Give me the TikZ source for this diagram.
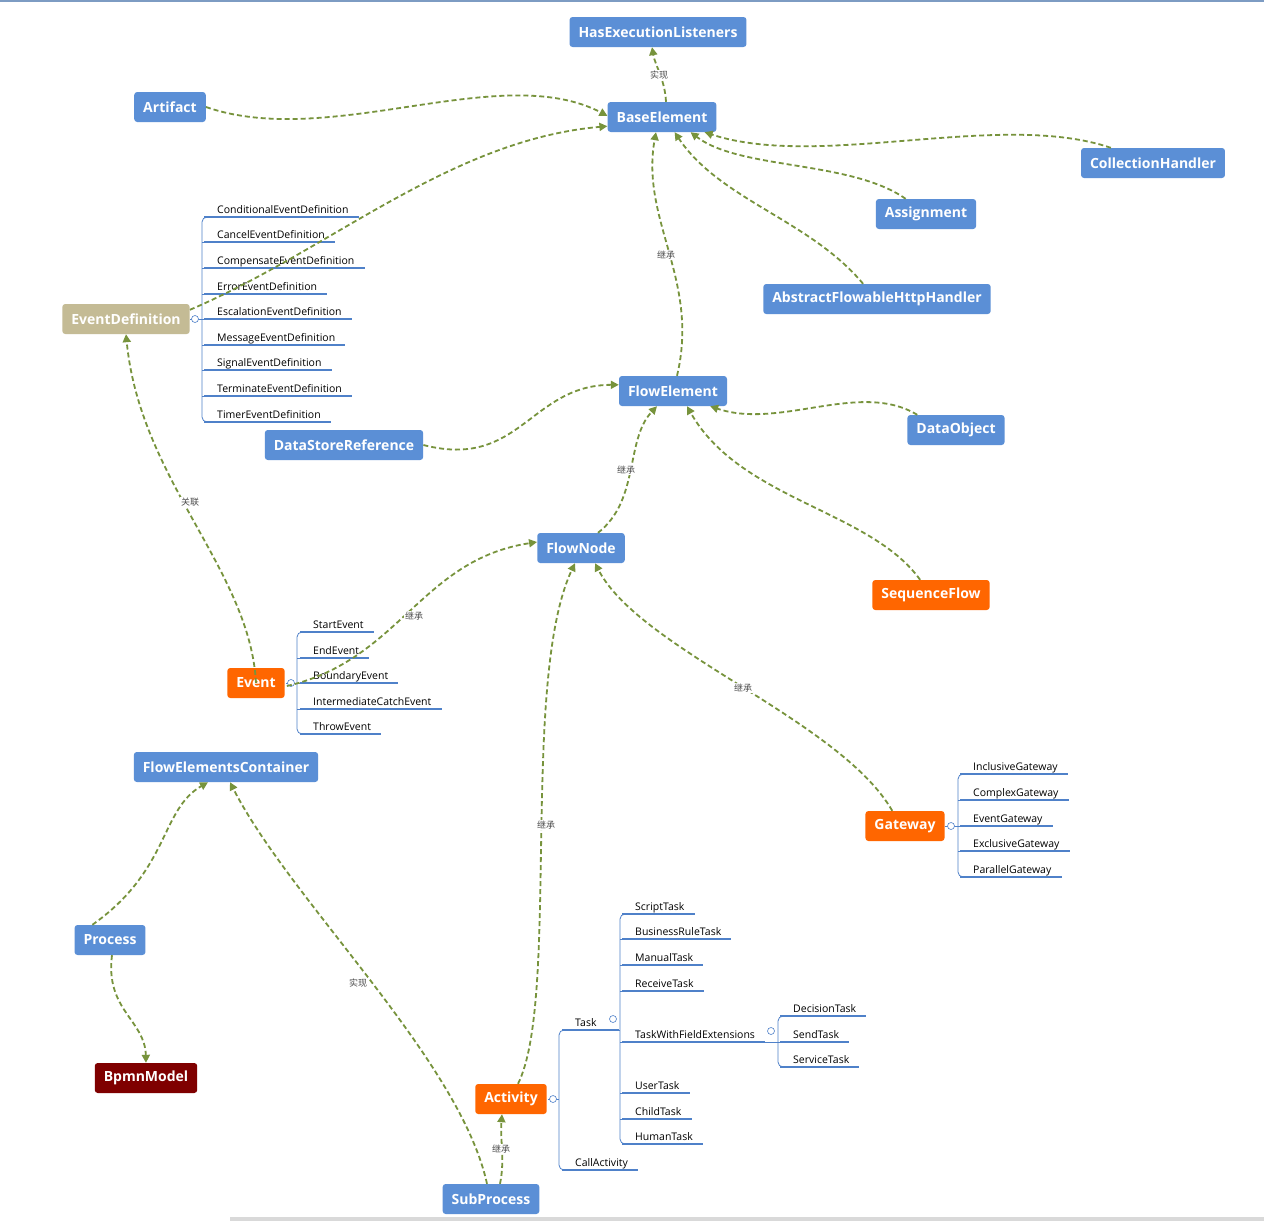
\documentclass[tikz,border=0pt]{standalone}
\usepackage{fontspec}
\setmainfont{Open Sans}
\newfontfamily\cjk{Noto Sans CJK SC}
\usetikzlibrary{arrows.meta}
\definecolor{nblue}{HTML}{5B8FD6}
\definecolor{norange}{HTML}{FF6600}
\definecolor{ntan}{HTML}{C4BB95}
\definecolor{nred}{HTML}{7F0000}
\definecolor{egreen}{HTML}{77933C}
\definecolor{lblue}{HTML}{4F81C9}
\tikzset{
  box/.style={rounded corners=3pt, fill=nblue, text=white, font=\fontsize{14}{14}\selectfont\bfseries, minimum height=30pt, inner xsep=9pt},
  obox/.style={box, fill=norange},
  rel/.style={draw=egreen, line width=1.8pt, dash pattern=on 5pt off 3pt, -{Triangle[length=8pt,width=8pt]}},
  lab/.style={font=\cjk\fontsize{9}{9}\selectfont\itshape, text=black!70, fill=white, inner sep=1pt},
  item/.style={anchor=base west, font=\fontsize{10.5}{10.5}\selectfont, inner sep=0pt},
  uline/.style={draw=lblue, line width=1.8pt},
  brk/.style={draw=lblue, line width=0.8pt, rounded corners=5pt},
  knob/.style={circle, draw=lblue, line width=0.6pt, minimum size=7pt, inner sep=0pt, fill=white}
}
\newcommand{\litem}[5]{% name, x, yline, text, extra
  \node[item] (#1) at (#2,#3-4) {#4};
  \draw[uline] (#2-13,#3) -- ([xshift=#5pt]#1.east |- 0,#3);
}
\begin{document}
\begin{tikzpicture}[x=1pt,y=-1pt]
\useasboundingbox (0,0) rectangle (1264,1221);
\fill[white] (0,0) rectangle (1264,1221);
\fill[black!40!cyan!70!blue!60] (0,0) rectangle (1264,2);
\fill[black!15] (230,1217) rectangle (1264,1221);

% nodes
\node[box] (hel) at (658,32) {HasExecutionListeners};
\node[box] (art) at (170,107) {Artifact};
\node[box] (be) at (662,117) {BaseElement};
\node[box] (ch) at (1153,163) {CollectionHandler};
\node[box] (asg) at (926,214) {Assignment};
\node[box] (afh) at (877,299) {AbstractFlowableHttpHandler};
\node[box, fill=ntan] (ed) at (126,319) {EventDefinition};
\node[box] (fe) at (673,391) {FlowElement};
\node[box] (dob) at (956,430) {DataObject};
\node[box] (dsr) at (344,445) {DataStoreReference};
\node[box] (fn) at (581,548) {FlowNode};
\node[obox] (sf) at (931,595) {SequenceFlow};
\node[obox] (ev) at (256,683) {Event};
\node[box] (fec) at (226,767) {FlowElementsContainer};
\node[obox] (gw) at (905,826) {Gateway};
\node[box] (pr) at (110,940) {Process};
\node[box, fill=nred] (bm) at (146,1078) {BpmnModel};
\node[obox] (act) at (511,1099) {Activity};
\node[box] (sp) at (491,1199) {SubProcess};

% lists: EventDefinition
\draw[brk] (211,217) -- (202,217) -- (202,422) -- (211,422);
\foreach \y in {242,268,294,319,345,370,396} \draw[brk] (202,\y) -- (211,\y);
\draw[brk] (190,319) -- (202,319);
\litem{e1}{217}{217}{ConditionalEventDefinition}{10}
\litem{e2}{217}{242}{CancelEventDefinition}{10}
\litem{e3}{217}{268}{CompensateEventDefinition}{10}
\litem{e4}{217}{294}{ErrorEventDefinition}{10}
\litem{e5}{217}{319}{EscalationEventDefinition}{10}
\litem{e6}{217}{345}{MessageEventDefinition}{10}
\litem{e7}{217}{370}{SignalEventDefinition}{10}
\litem{e8}{217}{396}{TerminateEventDefinition}{10}
\litem{e9}{217}{422}{TimerEventDefinition}{10}
\node[knob] (k1) at (195,319) {};

% Event list
\draw[brk] (306,632) -- (297,632) -- (297,734) -- (306,734);
\foreach \y in {658,683,709} \draw[brk] (297,\y) -- (306,\y);
\draw[brk] (286,683) -- (297,683);
\litem{v1}{313}{632}{StartEvent}{10}
\litem{v2}{313}{658}{EndEvent}{10}
\litem{v3}{313}{683}{BoundaryEvent}{10}
\litem{v4}{313}{709}{IntermediateCatchEvent}{10}
\litem{v5}{313}{734}{ThrowEvent}{10}
\node[knob] (k2) at (291,683) {};

% Gateway list
\draw[brk] (967,774) -- (958,774) -- (958,877) -- (967,877);
\foreach \y in {800,826,851} \draw[brk] (958,\y) -- (967,\y);
\draw[brk] (945,826) -- (958,826);
\litem{g1}{973}{774}{InclusiveGateway}{10}
\litem{g2}{973}{800}{ComplexGateway}{10}
\litem{g3}{973}{826}{EventGateway}{10}
\litem{g4}{973}{851}{ExclusiveGateway}{10}
\litem{g5}{973}{877}{ParallelGateway}{10}
\node[knob] (k3) at (951,826) {};

% Activity list
\draw[brk] (569,1030) -- (559,1030) -- (559,1170) -- (569,1170);
\draw[brk] (548,1099) -- (559,1099);
\litem{a1}{575}{1030}{Task}{22}
\litem{a2}{575}{1170}{CallActivity}{10}
\node[knob] (k4) at (553,1099) {};
% Task list
\draw[brk] (630,914) -- (620,914) -- (620,1144) -- (630,1144);
\foreach \y in {939,965,991,1042,1093,1119} \draw[brk] (620,\y) -- (630,\y);
\draw[brk] (607,1030) -- (620,1030);
\litem{t1}{635}{914}{ScriptTask}{10}
\litem{t2}{635}{939}{BusinessRuleTask}{10}
\litem{t3}{635}{965}{ManualTask}{10}
\litem{t4}{635}{991}{ReceiveTask}{10}
\litem{t5}{635}{1042}{TaskWithFieldExtensions}{10}
\litem{t6}{635}{1093}{UserTask}{10}
\litem{t7}{635}{1119}{ChildTask}{10}
\litem{t8}{635}{1144}{HumanTask}{10}
\node[knob] (k5) at (613,1019) {};
% TaskWithFieldExtensions list
\draw[brk] (788,1016) -- (778,1016) -- (778,1067) -- (788,1067);
\draw[brk] (765,1042) -- (788,1042);
\litem{d1}{793}{1016}{DecisionTask}{10}
\litem{d2}{793}{1042}{SendTask}{10}
\litem{d3}{793}{1067}{ServiceTask}{10}
\node[knob] (k6) at (771,1031) {};

% relations
\draw[rel] ([xshift=4pt]be.north) .. controls (665,80) and (655,65) .. ([xshift=-6pt]hel.south);
\node[lab] (l1) at (659,75) {实现};
\draw[rel] (art.east) .. controls (330,150) and (500,60) .. ([yshift=-14pt]be.north west);
\draw[rel] ([yshift=-6pt]ed.north east) .. controls (330,250) and (450,140) .. ([yshift=6pt]be.south west);
\draw[rel] ([xshift=30pt]ch.north west) .. controls (1000,110) and (820,170) .. ([xshift=-12pt]be.south east);
\draw[rel] ([xshift=30pt]asg.north west) .. controls (850,160) and (740,170) .. ([xshift=-26pt]be.south east);
\draw[rel] ([xshift=100pt]afh.north west) .. controls (810,220) and (720,200) .. ([xshift=-42pt]be.south east);
\draw[rel] ([xshift=4pt]fe.north) .. controls (700,280) and (640,220) .. ([xshift=-6pt]be.south);
\node[lab] (l2) at (666,255) {继承};
\draw[rel] (dsr.east) .. controls (520,470) and (530,385) .. ([yshift=-9pt]fe.north west);
\draw[rel] ([xshift=10pt]dob.north west) .. controls (860,380) and (780,430) .. ([xshift=-17pt]fe.south east);
\draw[rel] ([xshift=48pt]sf.north west) .. controls (870,510) and (740,500) .. ([xshift=14pt]fe.south);
\draw[rel] ([xshift=17pt]fn.north) .. controls (640,500) and (625,440) .. ([xshift=-16pt]fe.south);
\node[lab] (l3) at (626,470) {继承};
\draw[rel] ([yshift=-15pt]ev.north) .. controls (250,570) and (140,480) .. ([xshift=0pt]ed.south);
\node[lab] (l4) at (190,502) {关联};
\draw[rel] ([xshift=2pt,yshift=-3pt]ev.east) .. controls (400,660) and (420,560) .. ([yshift=6pt]fn.west);
\node[lab] (l5) at (414,616) {继承};
\draw[rel] ([xshift=27pt]gw.north west) .. controls (840,720) and (640,650) .. ([xshift=14pt]fn.south);
\node[lab] (l6) at (743,688) {继承};
\draw[rel] ([xshift=7pt]act.north) .. controls (560,1000) and (520,680) .. ([xshift=-6pt]fn.south);
\node[lab] (l7) at (546,825) {继承};
\draw[rel] ([xshift=18pt]pr.north west) .. controls (170,870) and (160,810) .. ([xshift=-18pt]fec.south);
\draw[rel] ([xshift=2pt]pr.south) .. controls (105,1010) and (145,1020) .. (bm.north);
\draw[rel] ([xshift=-4pt]sp.north) .. controls (460,1060) and (290,900) .. ([xshift=4pt]fec.south);
\node[lab] (l8) at (358,983) {实现};
\draw[rel] ([xshift=9pt]sp.north) .. controls (505,1160) and (500,1140) .. ([xshift=-9pt]act.south);
\node[lab] (l9) at (501,1149) {继承};
\end{tikzpicture}
\end{document}
